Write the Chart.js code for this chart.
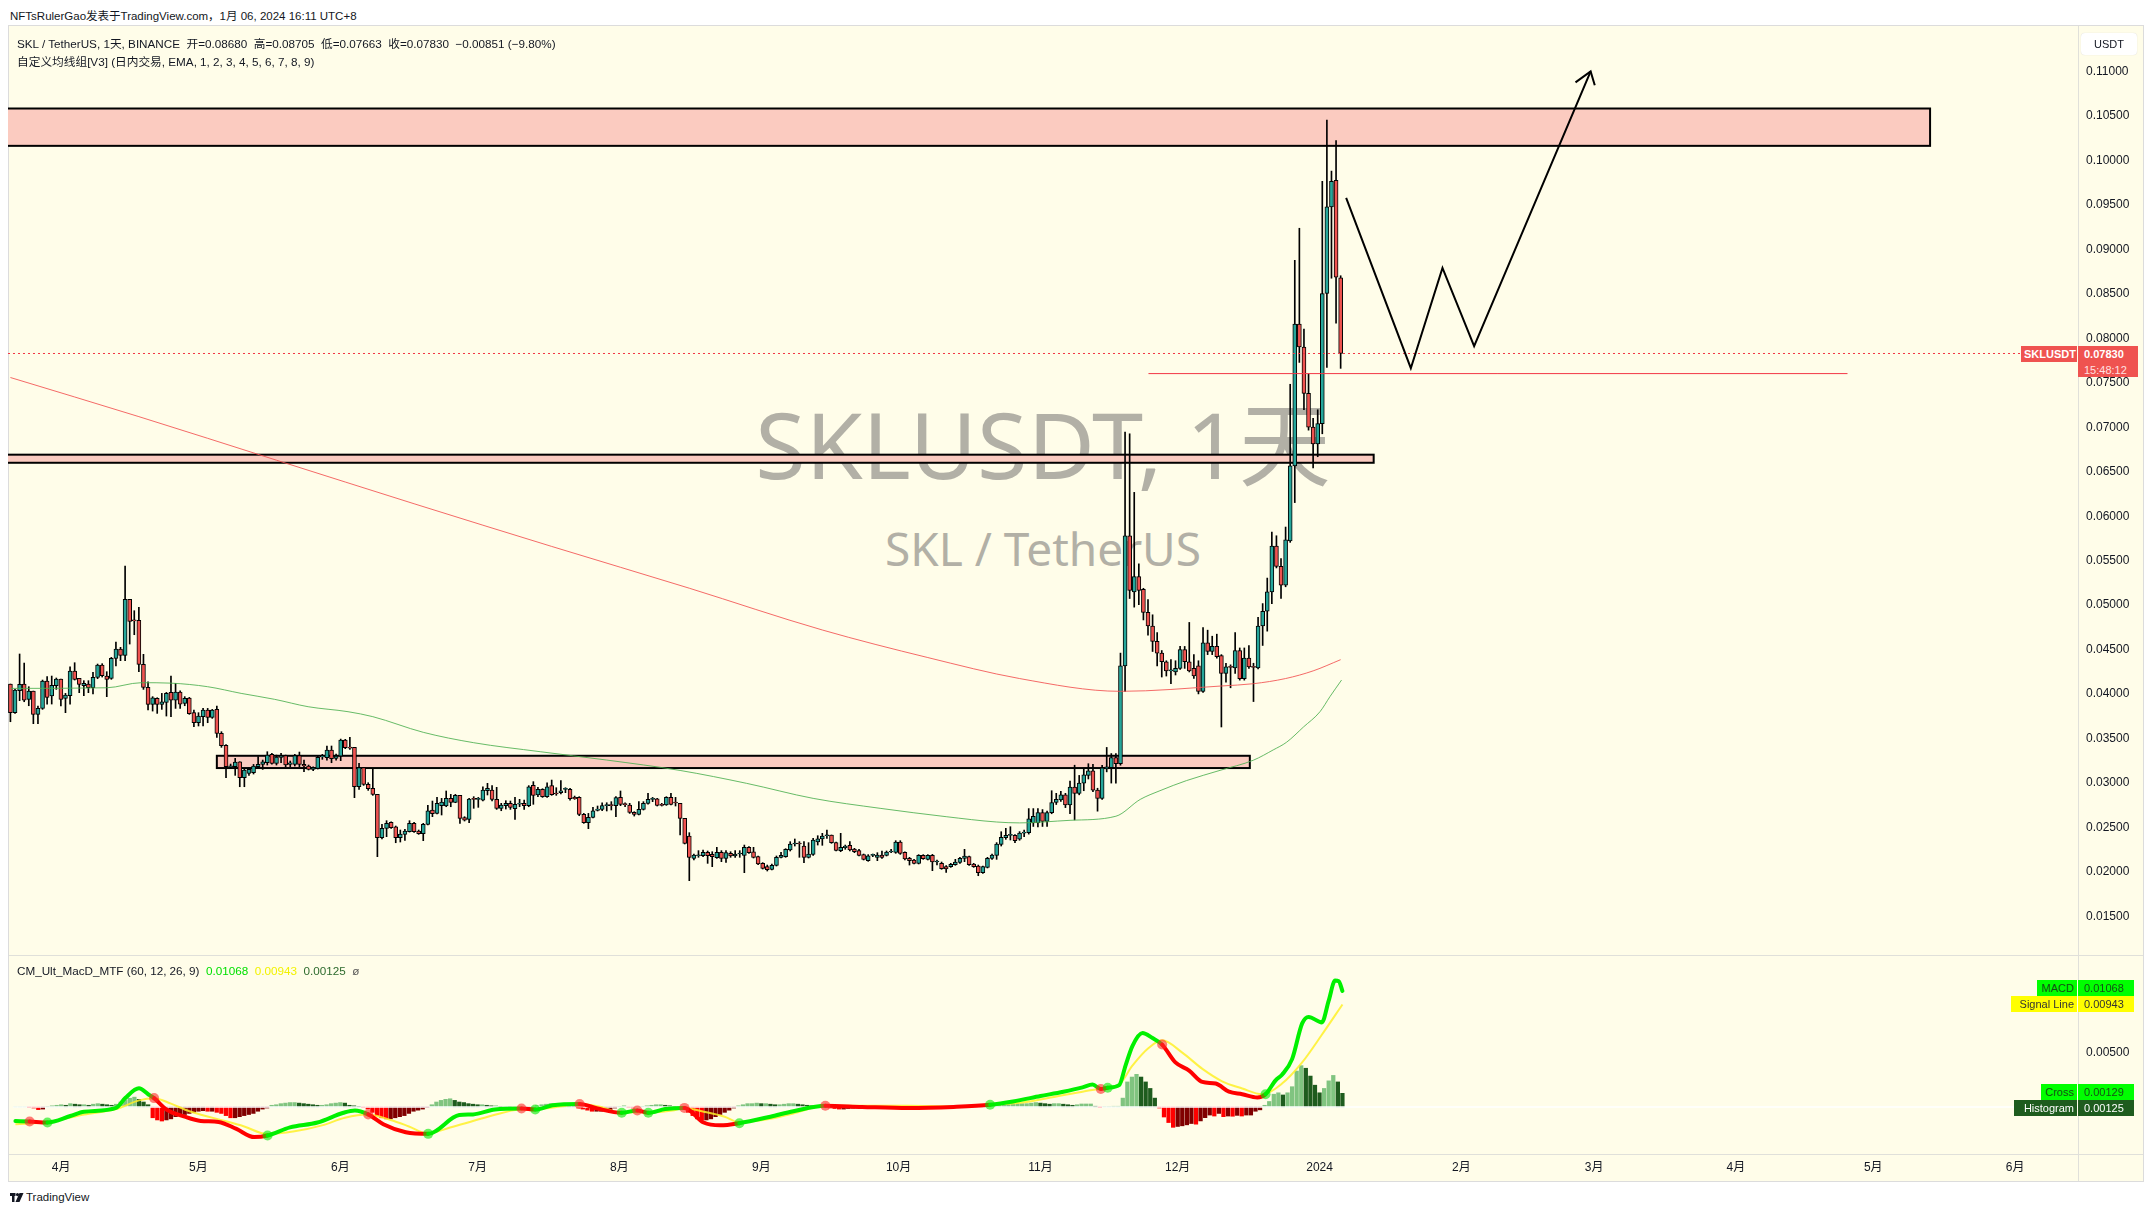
<!DOCTYPE html>
<html><head><meta charset="utf-8">
<script src="https://cdn.jsdelivr.net/npm/chart.js@4.4.1/dist/chart.umd.min.js"></script>
<style>
html,body{margin:0;padding:0;background:#fff;width:2154px;height:1217px;overflow:hidden;font-family:"Liberation Sans","Noto Sans CJK SC",sans-serif;color:#131722}
.abs{position:absolute;white-space:pre}
#frame{position:absolute;left:8px;top:25px;width:2136px;height:1157px;background:#FFFDE9;border:1px solid #DCDCDC;box-sizing:border-box;z-index:0}
canvas{position:absolute;z-index:2}
.wm{position:absolute;left:8px;width:2070px;text-align:center;color:#B2B0A6;font-family:"Noto Sans","Noto Sans CJK SC",sans-serif;z-index:1;line-height:1}
.sep{position:absolute;background:#E0E0DA;z-index:3}
.tag{position:absolute;z-index:4;font-size:11px;line-height:16px;height:16px;box-sizing:border-box;padding:0 3px;white-space:pre}
</style></head>
<body>
<div id="frame"></div>
<div class="abs" style="left:10px;top:7px;font-size:11.5px;color:#131722">NFTsRulerGao发表于TradingView.com，1月 06, 2024 16:11 UTC+8</div>
<div class="wm" style="top:398px;font-size:92px">SKLUSDT, 1天</div>
<div class="wm" style="top:525px;font-size:46px">SKL / TetherUS</div>
<div class="abs" style="left:17px;top:34px;font-size:11.7px;z-index:4">SKL / TetherUS, 1天, BINANCE  开=0.08680  高=0.08705  低=0.07663  收=0.07830  −0.00851 (−9.80%)</div>
<div class="abs" style="left:17px;top:52px;font-size:11.7px;z-index:4">自定义均线组[V3] (日内交易, EMA, 1, 2, 3, 4, 5, 6, 7, 8, 9)</div>
<div class="abs" style="left:17px;top:964px;font-size:11.7px;z-index:4">CM_Ult_MacD_MTF (60, 12, 26, 9)  <span style="color:#00E000">0.01068</span>  <span style="color:#F2F200">0.00943</span>  <span style="color:#2E6B2E">0.00125</span>  <span style="color:#555">ø</span></div>
<div class="sep" style="left:2078px;top:26px;width:1px;height:1155px"></div>
<div class="sep" style="left:9px;top:955px;width:2134px;height:1px"></div>
<div class="sep" style="left:9px;top:1154px;width:2134px;height:1px"></div>
<div class="abs" style="left:2081px;top:33px;width:56px;height:22px;background:#fff;border-radius:4px;font-size:11px;line-height:22px;text-align:center;z-index:4;box-shadow:0 0 1px #ccc">USDT</div>
<div id="lblSym" class="tag" style="left:2021px;width:56px;background:#EF5350;color:#fff;font-weight:bold;text-align:center">SKLUSDT</div>
<div id="lblPrice" class="tag" style="left:2078px;width:60px;height:31px;background:#EF5350;color:#fff;padding:0 0 0 6px"><b>0.07830</b>
<span style="color:#FFE0E0">15:48:12</span></div>
<div id="lblMacdA" class="tag" style="left:2037px;width:40px;background:#00FF00;color:#155015;text-align:right">MACD</div>
<div id="lblMacdB" class="tag" style="left:2078px;width:56px;background:#00FF00;color:#155015;padding-left:6px">0.01068</div>
<div id="lblSigA" class="tag" style="left:2011px;width:66px;background:#FFFF00;color:#333;text-align:right">Signal Line</div>
<div id="lblSigB" class="tag" style="left:2078px;width:56px;background:#FFFF00;color:#333;padding-left:6px">0.00943</div>
<div id="lblCrossA" class="tag" style="left:2041px;width:36px;background:#00FF00;color:#155015;text-align:right">Cross</div>
<div id="lblCrossB" class="tag" style="left:2078px;width:56px;background:#00FF00;color:#155015;padding-left:6px">0.00129</div>
<div id="lblHistA" class="tag" style="left:2014px;width:63px;background:#1E5C1E;color:#fff;text-align:right">Histogram</div>
<div id="lblHistB" class="tag" style="left:2078px;width:56px;background:#1E5C1E;color:#fff;padding-left:6px">0.00125</div>
<svg class="abs" style="left:10px;top:1193px" width="14" height="10" viewBox="0 0 14 10"><rect x="0" y="0" width="5.5" height="3" fill="#131722"/><rect x="2" y="0" width="2.5" height="9" fill="#131722"/><circle cx="7.5" cy="1.6" r="1.6" fill="#131722"/><polygon points="9.5,0 13.5,0 9.5,9 5.5,9" fill="#131722"/></svg>
<div class="abs" style="left:26px;top:1191px;font-size:11.5px;color:#131722">TradingView</div>
<canvas id="priceCanvas" width="2135" height="929" style="left:8px;top:26px"></canvas>
<canvas id="macdCanvas" width="2135" height="226" style="left:8px;top:955px"></canvas>
<script>
// ---------- data (day index: 0 = 2023-04-01) ----------
const firstDay = -10;
const openP = [
0.04112,0.03790,0.04037,0.04112,0.03940,0.04033,0.03771,0.03838,0.04146,0.03977,
0.04093,0.04168,0.03951,0.03981,0.04258,0.04176,0.04093,0.04112,0.04071,0.04187,
0.04326,0.04202,0.04176,0.04401,0.04506,0.04435,0.05065,0.04825,0.04828,0.04333,
0.04075,0.03883,0.03951,0.03883,0.03906,0.04018,0.03932,0.04022,0.03895,0.03955,
0.03790,0.03677,0.03745,0.03820,0.03737,0.03827,0.03557,0.03422,0.03182,0.03182,
0.03238,0.03058,0.03107,0.03115,0.03182,0.03208,0.03227,0.03321,0.03220,0.03287,
0.03306,0.03208,0.03208,0.03306,0.03208,0.03190,0.03152,0.03163,0.03291,0.03283,
0.03370,0.03276,0.03302,0.03482,0.03396,0.03400,0.02957,0.03171,0.02984,0.02939,
0.02871,0.02384,0.02488,0.02556,0.02507,0.02384,0.02421,0.02451,0.02545,0.02459,
0.02429,0.02533,0.02695,0.02657,0.02744,0.02740,0.02826,0.02781,0.02860,0.02609,
0.02590,0.02819,0.02815,0.02807,0.02912,0.02920,0.02815,0.02714,0.02744,0.02770,
0.02710,0.02762,0.02770,0.02744,0.02972,0.02864,0.02927,0.02845,0.02969,0.02879,
0.02890,0.02927,0.02927,0.02837,0.02837,0.02646,0.02552,0.02612,0.02691,0.02702,
0.02744,0.02747,0.02744,0.02837,0.02759,0.02751,0.02669,0.02646,0.02702,0.02770,
0.02815,0.02822,0.02759,0.02751,0.02837,0.02777,0.02770,0.02601,0.02403,0.02151,
0.02181,0.02181,0.02219,0.02196,0.02159,0.02219,0.02151,0.02208,0.02178,0.02200,
0.02185,0.02275,0.02226,0.02170,0.02095,0.02058,0.02028,0.02073,0.02163,0.02170,
0.02245,0.02313,0.02316,0.02290,0.02163,0.02196,0.02335,0.02370,0.02406,0.02414,
0.02328,0.02238,0.02271,0.02298,0.02256,0.02238,0.02193,0.02125,0.02185,0.02163,
0.02189,0.02185,0.02223,0.02219,0.02335,0.02219,0.02151,0.02133,0.02095,0.02185,
0.02140,0.02185,0.02110,0.02095,0.02058,0.02058,0.02080,0.02106,0.02151,0.02170,
0.02088,0.02065,0.01990,0.02050,0.02151,0.02185,0.02309,0.02384,0.02410,0.02410,
0.02366,0.02435,0.02440,0.02550,0.02550,0.02665,0.02567,0.02665,0.02780,0.02809,
0.02866,0.02751,0.02952,0.02883,0.02998,0.03084,0.03135,0.02918,0.02825,0.03158,
0.03170,0.03285,0.03216,0.04317,0.05780,0.05148,0.05321,0.05178,0.04919,0.04765,
0.04592,0.04460,0.04363,0.04260,0.04248,0.04288,0.04500,0.04363,0.04288,0.04317,
0.04030,0.04575,0.04478,0.04535,0.04432,0.04231,0.04306,0.04294,0.04489,0.04173,
0.04403,0.04306,0.04294,0.04765,0.04931,0.05149,0.05665,0.05436,0.05223,0.05723,
0.06566,0.08161,0.07903,0.07381,0.07002,0.06813,0.07042,0.08505,0.09480,0.09779,0.08680];
const highP = [
0.04112,0.04052,0.04450,0.04348,0.04082,0.04033,0.03865,0.04157,0.04195,0.04202,
0.04180,0.04168,0.04007,0.04307,0.04352,0.04176,0.04150,0.04150,0.04243,0.04337,
0.04341,0.04251,0.04412,0.04585,0.04525,0.05440,0.05065,0.04937,0.04975,0.04446,
0.04138,0.03970,0.03958,0.04007,0.04018,0.04202,0.04120,0.04037,0.03970,0.03962,
0.03820,0.03790,0.03838,0.03838,0.03827,0.03865,0.03576,0.03430,0.03212,0.03276,
0.03238,0.03163,0.03171,0.03208,0.03295,0.03257,0.03351,0.03332,0.03313,0.03332,
0.03313,0.03246,0.03321,0.03347,0.03257,0.03201,0.03182,0.03302,0.03321,0.03415,
0.03415,0.03325,0.03493,0.03490,0.03512,0.03400,0.03220,0.03171,0.03002,0.03163,
0.02871,0.02533,0.02575,0.02563,0.02515,0.02470,0.02477,0.02575,0.02556,0.02470,
0.02545,0.02747,0.02796,0.02837,0.02826,0.02909,0.02871,0.02871,0.02860,0.02620,
0.02826,0.02845,0.02837,0.02957,0.02995,0.02969,0.02950,0.02770,0.02800,0.02796,
0.02837,0.02815,0.02807,0.02969,0.03014,0.02950,0.02935,0.03002,0.03032,0.02946,
0.03025,0.02946,0.02939,0.02852,0.02845,0.02657,0.02657,0.02725,0.02740,0.02777,
0.02777,0.02789,0.02845,0.02909,0.02777,0.02770,0.02676,0.02789,0.02789,0.02882,
0.02837,0.02826,0.02770,0.02845,0.02882,0.02837,0.02770,0.02601,0.02440,0.02200,
0.02238,0.02245,0.02234,0.02226,0.02275,0.02238,0.02238,0.02226,0.02238,0.02238,
0.02301,0.02283,0.02275,0.02178,0.02103,0.02076,0.02088,0.02178,0.02219,0.02260,
0.02339,0.02369,0.02339,0.02339,0.02328,0.02376,0.02406,0.02433,0.02470,0.02414,
0.02335,0.02433,0.02301,0.02339,0.02264,0.02253,0.02200,0.02193,0.02200,0.02215,
0.02234,0.02234,0.02253,0.02350,0.02350,0.02226,0.02163,0.02140,0.02193,0.02193,
0.02193,0.02196,0.02133,0.02110,0.02069,0.02095,0.02140,0.02163,0.02253,0.02178,
0.02095,0.02076,0.02065,0.02163,0.02200,0.02328,0.02451,0.02489,0.02507,0.02418,
0.02452,0.02469,0.02711,0.02711,0.02711,0.02700,0.02682,0.02912,0.02883,0.02906,
0.02883,0.03021,0.03199,0.03084,0.03158,0.03216,0.03210,0.02940,0.03199,0.03399,
0.03330,0.03330,0.04460,0.06945,0.06927,0.06268,0.05464,0.05189,0.05063,0.04891,
0.04690,0.04489,0.04374,0.04386,0.04374,0.04535,0.04535,0.04805,0.04443,0.04374,
0.04747,0.04718,0.04650,0.04673,0.04443,0.04346,0.04328,0.04690,0.04518,0.04518,
0.04546,0.04346,0.04862,0.05017,0.05304,0.05820,0.05780,0.05522,0.05878,0.07484,
0.08878,0.09239,0.08104,0.07599,0.07100,0.07197,0.09767,0.10456,0.09882,0.10226,0.08705];
const lowP = [
0.03688,0.03782,0.03925,0.03913,0.03868,0.03666,0.03666,0.03827,0.03887,0.03887,
0.04052,0.03865,0.03790,0.03887,0.04157,0.04015,0.03981,0.04015,0.04000,0.04172,
0.04191,0.03970,0.04165,0.04315,0.04375,0.04375,0.04562,0.04667,0.04251,0.04052,
0.03820,0.03808,0.03782,0.03827,0.03752,0.03745,0.03838,0.03838,0.03868,0.03771,
0.03632,0.03640,0.03640,0.03677,0.03726,0.03512,0.03400,0.03058,0.03163,0.03085,
0.02957,0.02957,0.03085,0.03100,0.03163,0.03152,0.03201,0.03212,0.03201,0.03227,
0.03182,0.03182,0.03190,0.03182,0.03126,0.03145,0.03137,0.03156,0.03265,0.03257,
0.03227,0.03257,0.03250,0.03385,0.03377,0.02834,0.02927,0.02972,0.02916,0.02860,
0.02170,0.02369,0.02395,0.02488,0.02327,0.02335,0.02354,0.02447,0.02444,0.02421,
0.02350,0.02526,0.02620,0.02650,0.02639,0.02732,0.02732,0.02777,0.02545,0.02571,
0.02552,0.02714,0.02725,0.02796,0.02864,0.02796,0.02702,0.02687,0.02706,0.02702,
0.02590,0.02732,0.02702,0.02732,0.02759,0.02845,0.02837,0.02837,0.02860,0.02860,
0.02875,0.02890,0.02807,0.02815,0.02631,0.02545,0.02485,0.02605,0.02684,0.02687,
0.02684,0.02695,0.02620,0.02744,0.02732,0.02657,0.02627,0.02639,0.02695,0.02762,
0.02789,0.02740,0.02740,0.02747,0.02751,0.02740,0.02414,0.02313,0.01900,0.02133,
0.02163,0.02170,0.02095,0.02058,0.02151,0.02114,0.02106,0.02163,0.02163,0.02163,
0.01990,0.02208,0.02155,0.02080,0.02031,0.02009,0.02020,0.02065,0.02155,0.02163,
0.02234,0.02290,0.02163,0.02103,0.02155,0.02185,0.02301,0.02298,0.02376,0.02320,
0.02234,0.02226,0.02253,0.02234,0.02215,0.02178,0.02133,0.02118,0.02170,0.02125,
0.02151,0.02178,0.02215,0.02208,0.02196,0.02133,0.02076,0.02088,0.02088,0.02140,
0.02133,0.02013,0.02076,0.02028,0.01994,0.02050,0.02073,0.02095,0.02114,0.02073,
0.02050,0.01956,0.01983,0.02043,0.02140,0.02140,0.02290,0.02365,0.02358,0.02328,
0.02355,0.02395,0.02424,0.02510,0.02504,0.02510,0.02510,0.02653,0.02757,0.02791,
0.02722,0.02653,0.02584,0.02866,0.02912,0.03044,0.02900,0.02682,0.02814,0.03124,
0.02998,0.02998,0.03199,0.04030,0.05074,0.04977,0.05005,0.04833,0.04661,0.04478,
0.04317,0.04191,0.04202,0.04116,0.04214,0.04277,0.04288,0.04248,0.04174,0.04001,
0.04018,0.04443,0.04443,0.04403,0.03629,0.04133,0.04070,0.04231,0.04156,0.04156,
0.04288,0.03915,0.04282,0.04546,0.04707,0.05017,0.05418,0.05074,0.05206,0.05706,
0.06153,0.07730,0.07197,0.06968,0.06543,0.06669,0.06927,0.07673,0.08677,0.08172,0.07663];
const closeP = [
0.03790,0.04045,0.04108,0.03932,0.04033,0.03771,0.03838,0.04146,0.03962,0.04097,
0.04168,0.03940,0.03988,0.04258,0.04165,0.04108,0.04120,0.04071,0.04187,0.04326,
0.04206,0.04165,0.04401,0.04506,0.04435,0.05065,0.04817,0.04822,0.04333,0.04075,
0.03883,0.03958,0.03883,0.03913,0.04007,0.03932,0.04022,0.03887,0.03951,0.03778,
0.03677,0.03752,0.03820,0.03737,0.03820,0.03557,0.03418,0.03182,0.03185,0.03235,
0.03058,0.03145,0.03152,0.03190,0.03208,0.03238,0.03313,0.03220,0.03291,0.03302,
0.03201,0.03227,0.03306,0.03208,0.03190,0.03152,0.03171,0.03287,0.03306,0.03370,
0.03272,0.03302,0.03482,0.03396,0.03392,0.02957,0.03171,0.02984,0.02935,0.02871,
0.02384,0.02488,0.02545,0.02496,0.02384,0.02425,0.02459,0.02545,0.02451,0.02429,
0.02533,0.02687,0.02654,0.02770,0.02785,0.02826,0.02781,0.02860,0.02601,0.02582,
0.02819,0.02815,0.02819,0.02920,0.02939,0.02815,0.02714,0.02751,0.02770,0.02725,
0.02759,0.02766,0.02744,0.02957,0.02860,0.02927,0.02845,0.02957,0.02867,0.02875,
0.02912,0.02931,0.02822,0.02822,0.02646,0.02552,0.02612,0.02687,0.02706,0.02744,
0.02747,0.02744,0.02834,0.02759,0.02755,0.02669,0.02646,0.02702,0.02770,0.02815,
0.02819,0.02747,0.02747,0.02837,0.02759,0.02774,0.02601,0.02320,0.02163,0.02189,
0.02185,0.02219,0.02181,0.02170,0.02219,0.02151,0.02215,0.02178,0.02200,0.02208,
0.02275,0.02215,0.02163,0.02088,0.02039,0.02024,0.02073,0.02163,0.02185,0.02253,
0.02313,0.02316,0.02313,0.02163,0.02200,0.02358,0.02370,0.02403,0.02414,0.02328,
0.02241,0.02275,0.02290,0.02245,0.02226,0.02185,0.02140,0.02181,0.02189,0.02189,
0.02163,0.02223,0.02226,0.02335,0.02208,0.02144,0.02125,0.02095,0.02185,0.02148,
0.02185,0.02110,0.02114,0.02035,0.02031,0.02084,0.02110,0.02151,0.02178,0.02080,
0.02058,0.01990,0.02058,0.02151,0.02189,0.02313,0.02388,0.02410,0.02414,0.02350,
0.02435,0.02440,0.02596,0.02625,0.02665,0.02567,0.02665,0.02780,0.02814,0.02866,
0.02751,0.02952,0.02883,0.02998,0.03090,0.03135,0.02918,0.02825,0.03170,0.03181,
0.03285,0.03216,0.04317,0.05780,0.05166,0.05321,0.05166,0.04919,0.04765,0.04592,
0.04460,0.04363,0.04260,0.04265,0.04288,0.04500,0.04363,0.04260,0.04202,0.04030,
0.04575,0.04478,0.04535,0.04420,0.04231,0.04306,0.04300,0.04489,0.04173,0.04403,
0.04306,0.04300,0.04765,0.04931,0.05149,0.05665,0.05436,0.05223,0.05734,0.06566,
0.08161,0.07903,0.07381,0.07002,0.06813,0.07042,0.08505,0.09480,0.09767,0.08689,0.07830];

const emaRedDays = [-10,18,48,78,108,138,167,190,210,232,254,261,268,274,280];
const emaRedVals = [0.0756,0.0712,0.0663,0.0614,0.0566,0.0519,0.0472,0.0441,0.04174,0.0403,0.0409,0.04116,0.04174,0.0426,0.04386];
const emaGreenDays = [-10,11,18.5,25,33,40.3,47.6,54.9,63.6,69,80,91,105.5,120,136,150.5,165,179.6,194,205,210,221,231,236.3,240.6,246.4,253.7,261,265.3,268.2,271.9,275.5,277.7,280.2];
const emaGreenVals = [0.04063,0.04070,0.04127,0.04122,0.04082,0.04007,0.03940,0.03857,0.03801,0.03745,0.03569,0.03452,0.03351,0.03257,0.03140,0.02995,0.02826,0.02714,0.02620,0.02560,0.02550,0.02579,0.02625,0.02814,0.02912,0.03026,0.03141,0.03256,0.03371,0.03457,0.03629,0.03801,0.03973,0.04157];

const macdHist = [
0,0,0,-0.00005,-0.0001,-0.00025,-0.0002,0.00005,0.0001,0.00015,
0.0002,0.00015,0.0003,0.00025,0.0002,0.0002,0.00015,0.00025,0.0003,0.00025,
0.0002,0.00015,0.00025,0.00045,0.00066,0.0008,0.0009,0.0007,0.00045,0.0002,
-0.0010,-0.0012,-0.0013,-0.0012,-0.0011,-0.0009,-0.0008,-0.0007,-0.0006,-0.0005,
-0.0004,-0.00035,-0.0004,-0.0004,-0.0005,-0.0006,-0.0008,-0.0010,-0.0010,-0.0009,
-0.0008,-0.0007,-0.0006,-0.0004,-0.0002,-0.0001,0.00015,0.0002,0.0003,0.00035,
0.0004,0.0004,0.00035,0.0003,0.00025,0.0002,0.00015,0.00015,0.0002,0.0003,
0.00035,0.0004,0.00035,0.00015,0.0001,0.00005,-0.00005,-0.0002,-0.0005,-0.0008,
-0.0010,-0.0011,-0.0011,-0.0010,-0.0009,-0.0008,-0.0006,-0.0004,-0.0003,-0.0002,
-0.00005,0.0002,0.00045,0.0006,0.0007,0.00075,0.0006,0.00045,0.0004,0.0003,
0.00025,0.0002,0.0002,0.00015,0.0001,0.0001,0.00005,0.00005,0.00003,-0.00003,
-0.00005,-0.0001,-0.00005,0.00002,0.0001,0.0002,0.00025,0.0003,0.0003,0.0003,
0.00025,0.0002,0.0001,-0.0001,-0.0002,-0.0003,-0.0004,-0.0004,-0.0004,-0.0003,
-0.00025,-0.0001,0.00005,0.0001,-0.00005,-0.0001,0.00002,0.00005,0.0001,0.00015,
0.0002,0.0002,0.00015,0.0001,0.00005,0.00002,-0.0002,-0.0005,-0.0008,-0.0011,
-0.0012,-0.0012,-0.0011,-0.0009,-0.0007,-0.0005,-0.0003,-0.0001,0.0001,0.0002,
0.0003,0.0003,0.00035,0.0003,0.0003,0.00025,0.0002,0.0002,0.00025,0.0003,
0.0003,0.00025,0.0002,0.00015,0.0001,0.00005,0.00002,-0.00005,-0.0001,-0.00015,
-0.0002,-0.0002,-0.00015,-0.00012,-0.0001,-0.0001,-0.00012,-0.00015,-0.00012,-0.0001,
-0.00008,-0.0001,-0.00012,-0.00015,-0.00015,-0.00012,-0.0001,-0.00008,-0.00006,-0.00008,
-0.0001,-0.0001,-0.00008,-0.00006,-0.00005,-0.00005,-0.00004,-0.00003,-0.00002,-0.00002,
-0.00001,-0.00001,0.00002,0.00005,0.0001,0.00015,0.0002,0.00025,0.0003,0.0003,
0.0003,0.0003,0.00035,0.0004,0.00035,0.0003,0.00025,0.0003,0.0003,0.00025,
0.0002,0.00015,0.0002,0.00027,0.00027,0.00027,0.00006,-0.00005,0.00002,0.00003,
0.00006,0.00006,0.00081,0.0023,0.00275,0.003,0.00275,0.0023,0.0017,0.00081,
-0.0001,-0.00093,-0.00144,-0.00188,-0.0018,-0.00174,-0.00165,-0.00153,-0.00159,-0.00129,
-0.00099,-0.00075,-0.00084,-0.0006,-0.0009,-0.00084,-0.00086,-0.00078,-0.00084,-0.00075,
-0.00075,-0.0004,-0.00027,0.00015,0.0005,0.00117,0.0013,0.0011,0.0013,0.00186,
0.0033,0.0038,0.00356,0.00284,0.002,0.0013,0.0017,0.0024,0.0029,0.0023,0.00125];

const macdDays = [-10,-6.9,-3,2,5,12,14,17,19,20.3,23,27,30.5,34.4,38.3,42.2,45.1,50,56,61.7,64.2,67.1,70.4,75.3,80.2,87,90,94.8,100.6,103.6,107.4,113.3,117.2,122.5,125.9,128.3,132,136.2,140.4,144,148.2,155,160,167,175,185,195,203,208,214,219,223.2,225.4,227.2,228.7,231.2,232.6,234.1,236.3,238.5,240.6,243.5,246.5,249.4,252.3,255.2,258.1,261.4,263.2,265.4,266.8,269,271.2,272.6,275.5,277,278.4,279.2,280];
const macdVals = [-0.0013,-0.00135,-0.00144,-0.00084,-0.00045,-0.00009,0.00081,0.00171,0.00117,0.00081,-0.00024,-0.0009,-0.00129,-0.00138,-0.00203,-0.00278,-0.00263,-0.00188,-0.00144,-0.00054,-0.00033,-0.00069,-0.00159,-0.00233,-0.00248,-0.00075,-0.00069,-0.00024,-0.00015,-0.00024,0.00015,0.00027,-0.00015,-0.00054,-0.00033,-0.00054,-0.0002,-0.00009,-0.00144,-0.0017,-0.0015,-0.0009,-0.0004,0.0001,0.0,-0.0001,0.0,0.0002,0.0005,0.0010,0.0014,0.0018,0.00206,0.00165,0.00177,0.002,0.0038,0.0056,0.0068,0.00634,0.00574,0.0041,0.00335,0.0023,0.00215,0.0014,0.00117,0.00087,0.00117,0.00245,0.00296,0.0044,0.00769,0.00829,0.00778,0.00978,0.01164,0.01158,0.01068];
const macdUp = [1,0,1,1,1,1,1,1,1,0,0,0,0,0,0,0,1,1,1,1,1,0,0,0,1,1,1,1,0,1,1,0,0,1,0,1,1,0,0,0,1,1,1,0,0,0,0,1,1,1,1,1,1,0,1,1,1,1,1,1,0,0,0,0,0,0,0,0,1,1,1,1,1,1,1,1,1,1,1];
const signalDays = [-10,-3,5,12,17,20.3,24,28,34,40,45,51,57,62,67,72,76,80,85,90,95,100,104,109,113,118,122,128,134,136.2,140,145,148,155,160,167,175,185,195,203,210,218,223.2,227.6,231.2,234.1,237.7,240.6,245,249.4,253.7,258.1,262.4,266.8,271.2,275.5,280];
const signalVals = [-0.0016,-0.0014,-0.0007,-0.0002,0.0006,0.0008,0.0003,-0.0004,-0.0011,-0.0018,-0.0025,-0.00225,-0.0017,-0.0010,-0.0007,-0.0012,-0.0018,-0.00245,-0.0019,-0.0013,-0.0007,-0.00025,-0.0002,0.00003,0.00027,0.0,-0.0005,-0.0005,-0.0003,-0.00009,-0.0004,-0.0009,-0.0014,-0.0011,-0.0006,0.0001,0.0001,0.0001,0.00005,0.0002,0.0004,0.0010,0.0014,0.0017,0.00206,0.0038,0.00545,0.00613,0.005,0.0035,0.00236,0.0017,0.00117,0.00215,0.0041,0.00664,0.00943];
const crossDays = [-6.9,-3,20.3,45.1,67.1,80.2,100.6,103.6,113.3,122.5,125.9,128.3,136.2,148.2,167,203,227.2,228.7,240.6,263.2];
const crossVals = [-0.00135,-0.00144,0.00081,-0.00263,-0.00069,-0.00248,-0.00015,-0.00024,0.00027,-0.00054,-0.00033,-0.00054,-0.00009,-0.0015,0.0001,0.0002,0.00165,0.00177,0.00574,0.00117];
const crossUp = [0,1,0,1,0,1,0,1,0,1,0,1,0,1,0,1,0,1,0,1];

const monthTickDays = [0,30,61,91,122,153,183,214,244,275,306,335,366,396,427];
const monthTickLabels = ['4月','5月','6月','7月','8月','9月','10月','11月','12月','2024','2月','3月','4月','5月','6月'];
const priceTickLabels = ['0.01500','0.02000','0.02500','0.03000','0.03500','0.04000','0.04500','0.05000','0.05500','0.06000','0.06500','0.07000','0.07500','0.08000','0.08500','0.09000','0.09500','0.10000','0.10500','0.11000'];
const macdTickLabels = ['0.00500'];

// drawings (in data space: day index / price)
const zoneStart = [-30, -30, 35];
const zoneEnd = [408.5, 287.2, 260.2];
const zoneTop = [0.10586, 0.06692, 0.03305];
const zoneBottom = [0.10166, 0.06601, 0.03167];
const pathDays = [281.2, 295.3, 302.2, 309.1, 334.5];
const pathVals = [0.09581, 0.07665, 0.08793, 0.07912, 0.11003];
const arrowDays = [331.2, 334.5, 335.4];
const arrowVals = [0.10880, 0.11003, 0.10848];
const levelDays = [238.1, 390.5];
const levelVals = [0.07604, 0.07604];
const lastPrice = 0.07830;

// ---------- layout constants ----------
const X_MIN = -10.53, X_MAX = 440.75;
const P_MIN = 0.010641, P_MAX = 0.115141;
const M_MIN = -0.004336, M_MAX = 0.013528;
const UP = '#26A69A', DOWN = '#EF5350';
const FONT = '"Liberation Sans","Noto Sans CJK SC",sans-serif';

const days = closeP.map((_, i) => firstDay + i);
const pts = (xs, ys) => xs.map((x, i) => ({x, y: ys[i]}));

const zonePlugin = {
  id: 'zones',
  beforeDatasetsDraw(chart) {
    const {ctx, chartArea: a, scales: {x, y}} = chart;
    ctx.save();
    ctx.beginPath(); ctx.rect(a.left, a.top, a.right - a.left, a.bottom - a.top); ctx.clip();
    for (let i = 0; i < zoneStart.length; i++) {
      const x0 = x.getPixelForValue(zoneStart[i]), x1 = x.getPixelForValue(zoneEnd[i]);
      const y0 = y.getPixelForValue(zoneTop[i]), y1 = y.getPixelForValue(zoneBottom[i]);
      ctx.fillStyle = '#FBCBC0';
      ctx.fillRect(x0, y0, x1 - x0, y1 - y0);
      ctx.lineWidth = 2; ctx.strokeStyle = '#000';
      ctx.strokeRect(x0, y0, x1 - x0, y1 - y0);
    }
    ctx.restore();
  }
};

const yFit = s => { s.width = 65; s.paddingTop = 0; s.paddingBottom = 0; };

const priceChart = new Chart(document.getElementById('priceCanvas'), {
  type: 'bar',
  data: { datasets: [
    {type: 'line', data: pts(emaRedDays, emaRedVals), borderColor: 'rgba(242,80,80,0.85)', borderWidth: 1, pointRadius: 0, cubicInterpolationMode: 'monotone', order: 1},
    {type: 'line', data: pts(emaGreenDays, emaGreenVals), borderColor: 'rgba(76,175,80,0.85)', borderWidth: 1, pointRadius: 0, cubicInterpolationMode: 'monotone', order: 1},
    {type: 'line', data: pts(levelDays, levelVals), borderColor: '#F23645', borderWidth: 1, pointRadius: 0, order: 1},
    {type: 'line', data: [{x: X_MIN, y: lastPrice}, {x: X_MAX, y: lastPrice}], borderColor: '#F23645', borderWidth: 1, borderDash: [2, 3], pointRadius: 0, order: 1},
    {type: 'line', data: pts(pathDays, pathVals), borderColor: '#000', borderWidth: 2, pointRadius: 0, tension: 0, order: 0},
    {type: 'line', data: pts(arrowDays, arrowVals), borderColor: '#000', borderWidth: 2, pointRadius: 0, tension: 0, order: 0},
    {type: 'bar', data: days.map((d, i) => ({x: d, y: [lowP[i], highP[i]]})), backgroundColor: '#000', barThickness: 1, grouped: false, order: 3},
    {type: 'bar', data: days.map((d, i) => ({x: d, y: [openP[i], closeP[i]]})), backgroundColor: days.map((_, i) => closeP[i] >= openP[i] ? UP : DOWN), borderColor: '#000', borderWidth: 1, borderSkipped: false, barThickness: 4, minBarLength: 1, grouped: false, order: 2}
  ]},
  options: {
    responsive: false, animation: false, devicePixelRatio: 1,
    layout: {padding: 0},
    plugins: {legend: {display: false}, tooltip: {enabled: false}},
    scales: {
      x: {type: 'linear', min: X_MIN, max: X_MAX, offset: false, display: false},
      y: {type: 'linear', position: 'right', min: P_MIN, max: P_MAX,
        grid: {display: false, drawTicks: false}, border: {display: false},
        ticks: {padding: 8, color: '#131722', font: {family: FONT, size: 12}, autoSkip: false, callback: (v, i) => priceTickLabels[i]},
        afterBuildTicks: s => { s.ticks = priceTickLabels.map(t => ({value: parseFloat(t)})); },
        afterFit: yFit}
    }
  },
  plugins: [zonePlugin]
});

const histColors = macdHist.map((v, i) => {
  const p = i > 0 ? macdHist[i - 1] : 0;
  return v >= 0 ? (v >= p ? '#80C480' : '#1E5C1E') : (v < p ? '#FF0000' : '#800000');
});

const macdChart = new Chart(document.getElementById('macdCanvas'), {
  type: 'bar',
  data: { datasets: [
    {type: 'bar', data: days.map((d, i) => ({x: d, y: macdHist[i]})), backgroundColor: histColors, barThickness: 3.6, grouped: false, order: 5},
    {type: 'line', data: [{x: X_MIN, y: 0}, {x: X_MAX, y: 0}], borderColor: '#FFFFFF', borderWidth: 1.5, pointRadius: 0, order: 4},
    {type: 'line', data: pts(signalDays, signalVals), borderColor: 'rgba(255,240,40,0.85)', borderWidth: 2, pointRadius: 0, cubicInterpolationMode: 'monotone', order: 3},
    {type: 'line', data: pts(macdDays, macdVals), borderWidth: 4, pointRadius: 0, cubicInterpolationMode: 'monotone', borderCapStyle: 'round', borderJoinStyle: 'round',
      borderColor: '#00FF00', segment: {borderColor: c => macdUp[c.p0DataIndex] ? '#00F000' : '#FF0000'}, order: 2},
    {type: 'line', data: pts(crossDays, crossVals), showLine: false, pointRadius: 5, pointBorderWidth: 0,
      pointBackgroundColor: crossUp.map(u => u ? 'rgba(0,235,0,0.6)' : 'rgba(255,40,40,0.6)'), order: 1}
  ]},
  options: {
    responsive: false, animation: false, devicePixelRatio: 1,
    layout: {padding: 0},
    plugins: {legend: {display: false}, tooltip: {enabled: false}},
    scales: {
      x: {type: 'linear', min: X_MIN, max: X_MAX, offset: false,
        grid: {display: false, drawTicks: false}, border: {display: false},
        ticks: {padding: 6, maxRotation: 0, autoSkip: false, color: '#131722', font: {family: FONT, size: 12}, callback: (v, i) => monthTickLabels[i]},
        afterBuildTicks: s => { s.ticks = monthTickDays.map(v => ({value: v})); },
        afterFit: s => { s.height = 27; s.paddingLeft = 0; s.paddingRight = 0; }},
      y: {type: 'linear', position: 'right', min: M_MIN, max: M_MAX,
        grid: {display: false, drawTicks: false}, border: {display: false},
        ticks: {padding: 8, color: '#131722', font: {family: FONT, size: 12}, autoSkip: false, callback: (v, i) => macdTickLabels[i]},
        afterBuildTicks: s => { s.ticks = macdTickLabels.map(t => ({value: parseFloat(t)})); },
        afterFit: yFit}
    }
  }
});

// axis value tags positioned through the scales
const pY = 26 + priceChart.scales.y.getPixelForValue(lastPrice);
document.getElementById('lblSym').style.top = (pY - 8) + 'px';
document.getElementById('lblPrice').style.top = (pY - 8) + 'px';
const mY = 955 + macdChart.scales.y.getPixelForValue(macdVals[macdVals.length - 1]);
['lblMacdA', 'lblMacdB'].forEach(id => document.getElementById(id).style.top = (mY - 11) + 'px');
['lblSigA', 'lblSigB'].forEach(id => document.getElementById(id).style.top = (mY + 5) + 'px');
const cY = 955 + macdChart.scales.y.getPixelForValue(0.00129);
['lblCrossA', 'lblCrossB'].forEach(id => document.getElementById(id).style.top = (cY - 9) + 'px');
['lblHistA', 'lblHistB'].forEach(id => document.getElementById(id).style.top = (cY + 7) + 'px');
</script>
</body></html>
